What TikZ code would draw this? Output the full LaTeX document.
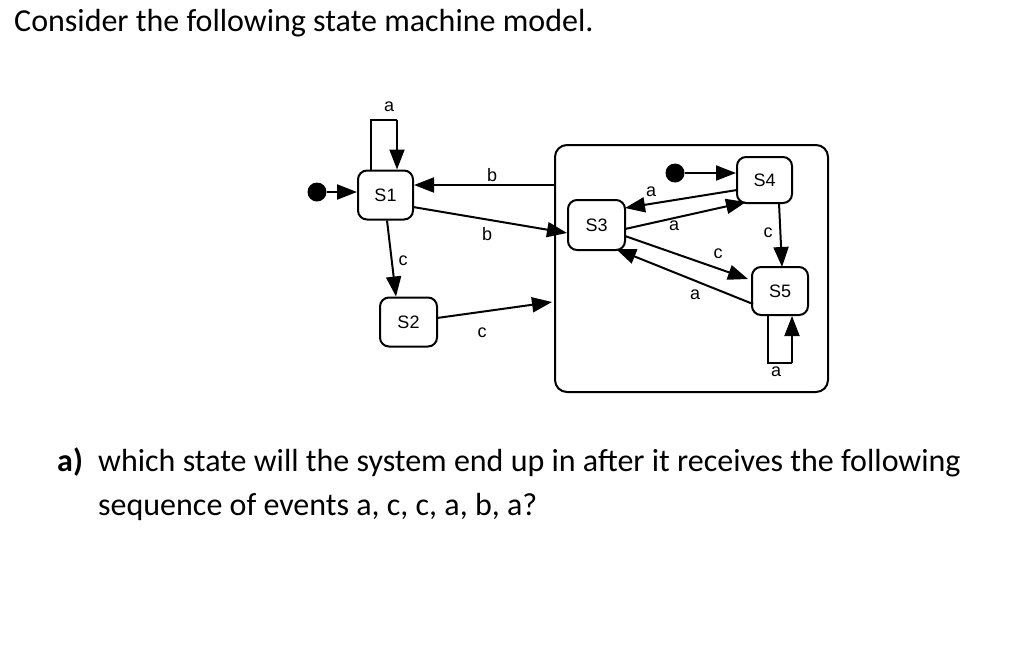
\documentclass[tikz,border=0pt]{standalone}
\usepackage{fontspec}
\setmainfont{Carlito}
\newfontfamily\lab{Liberation Sans}
\usetikzlibrary{arrows.meta}
\begin{document}
\begin{tikzpicture}[x=1pt,y=-1pt,
  st/.style={draw,line width=2pt,rounded corners=9pt,minimum width=55pt,minimum height=49pt,inner sep=0pt,font=\lab\fontsize{18}{18}\selectfont},
  tr/.style={line width=2pt,-{Triangle[length=20pt,width=15pt]}},
  ln/.style={line width=2pt},
  lb/.style={font=\lab\fontsize{18}{18}\selectfont,inner sep=0pt},
  dot/.style={circle,fill,inner sep=0pt,minimum size=19pt},
  txt/.style={font=\fontsize{32}{32}\selectfont,anchor=base west,inner sep=0pt}]
\useasboundingbox (0,0) rectangle (1024,657);
\node[txt] (title) at (14,31) {Consider the following state machine model.};
\node[txt] (qa) at (57,471) {\textbf{a)}};
\node[txt] (q1) at (98,471) {which state will the system end up in after it receives the following};
\node[txt] (q2) at (98,515) {sequence of events a, c, c, a, b, a?};
% container
\node[draw,line width=2pt,rounded corners=12pt,minimum width=273pt,minimum height=247pt,inner sep=0pt] (box) at (691.5,268.5) {};
\node[st] (s1) at (385.5,195) {S1};
\node[st,minimum width=57pt] (s2) at (408.5,322) {S2};
\node[st,minimum width=57pt,minimum height=50pt] (s3) at (596.5,225) {S3};
\node[st,minimum height=46pt] (s4) at (764.5,180) {S4};
\node[st,minimum width=56pt,minimum height=48pt] (s5) at (780,291) {S5};
\node[dot] (i1) at (317,192) {};
\node[dot] (i2) at (675,173) {};
\draw[tr] (i1) -- (s1.west|-i1);
\draw[tr] (i2) -- (s4.west|-i2);
% S1 loop
\coordinate (l1a) at (371,120); \coordinate (l1b) at (397,120);
\draw[ln] (s1.north-|l1a) -- (l1a) -- (l1b);
\draw[tr] (l1b) -- (s1.north-|l1b);
\node[lb] (la1) at (389,107) {a};
% b back to S1
\coordinate (bb) at (555,185);
\draw[tr] (bb) -- (s1.east|-bb);
\node[lb] (lb1) at (492,175) {b};
\draw[tr] (413,207) -- (s3.west|-0,233);
\node[lb] (lb2) at (487,234) {b};
\draw[tr] (s1.south-|387,0) -- (s2.north-|396,0);
\node[lb] (lc1) at (403,261) {c};
\coordinate (ce) at (552,302);
\draw[tr] (437,318) -- (ce);
\node[lb] (lc2) at (482,333) {c};
% inside
\draw[tr] (737,190) -- (625,208);
\node[lb] (la2) at (651,192) {a};
\draw[tr] (625,229) -- (746,202);
\node[lb] (la3) at (674,226) {a};
\draw[tr] (625,236) -- (748,279);
\node[lb] (lc3) at (718,254) {c};
\draw[tr] (753,304) -- (616,249);
\node[lb] (la4) at (695,295) {a};
\draw[tr] (779,203) -- (782,267);
\node[lb] (lc4) at (768,233) {c};
\coordinate (l5a) at (768,363); \coordinate (l5b) at (792,363);
\draw[ln] (s5.south-|l5a) -- (l5a) -- (l5b);
\draw[tr] (l5b) -- (s5.south-|l5b);
\node[lb] (la5) at (776,372) {a};
\end{tikzpicture}
\end{document}
